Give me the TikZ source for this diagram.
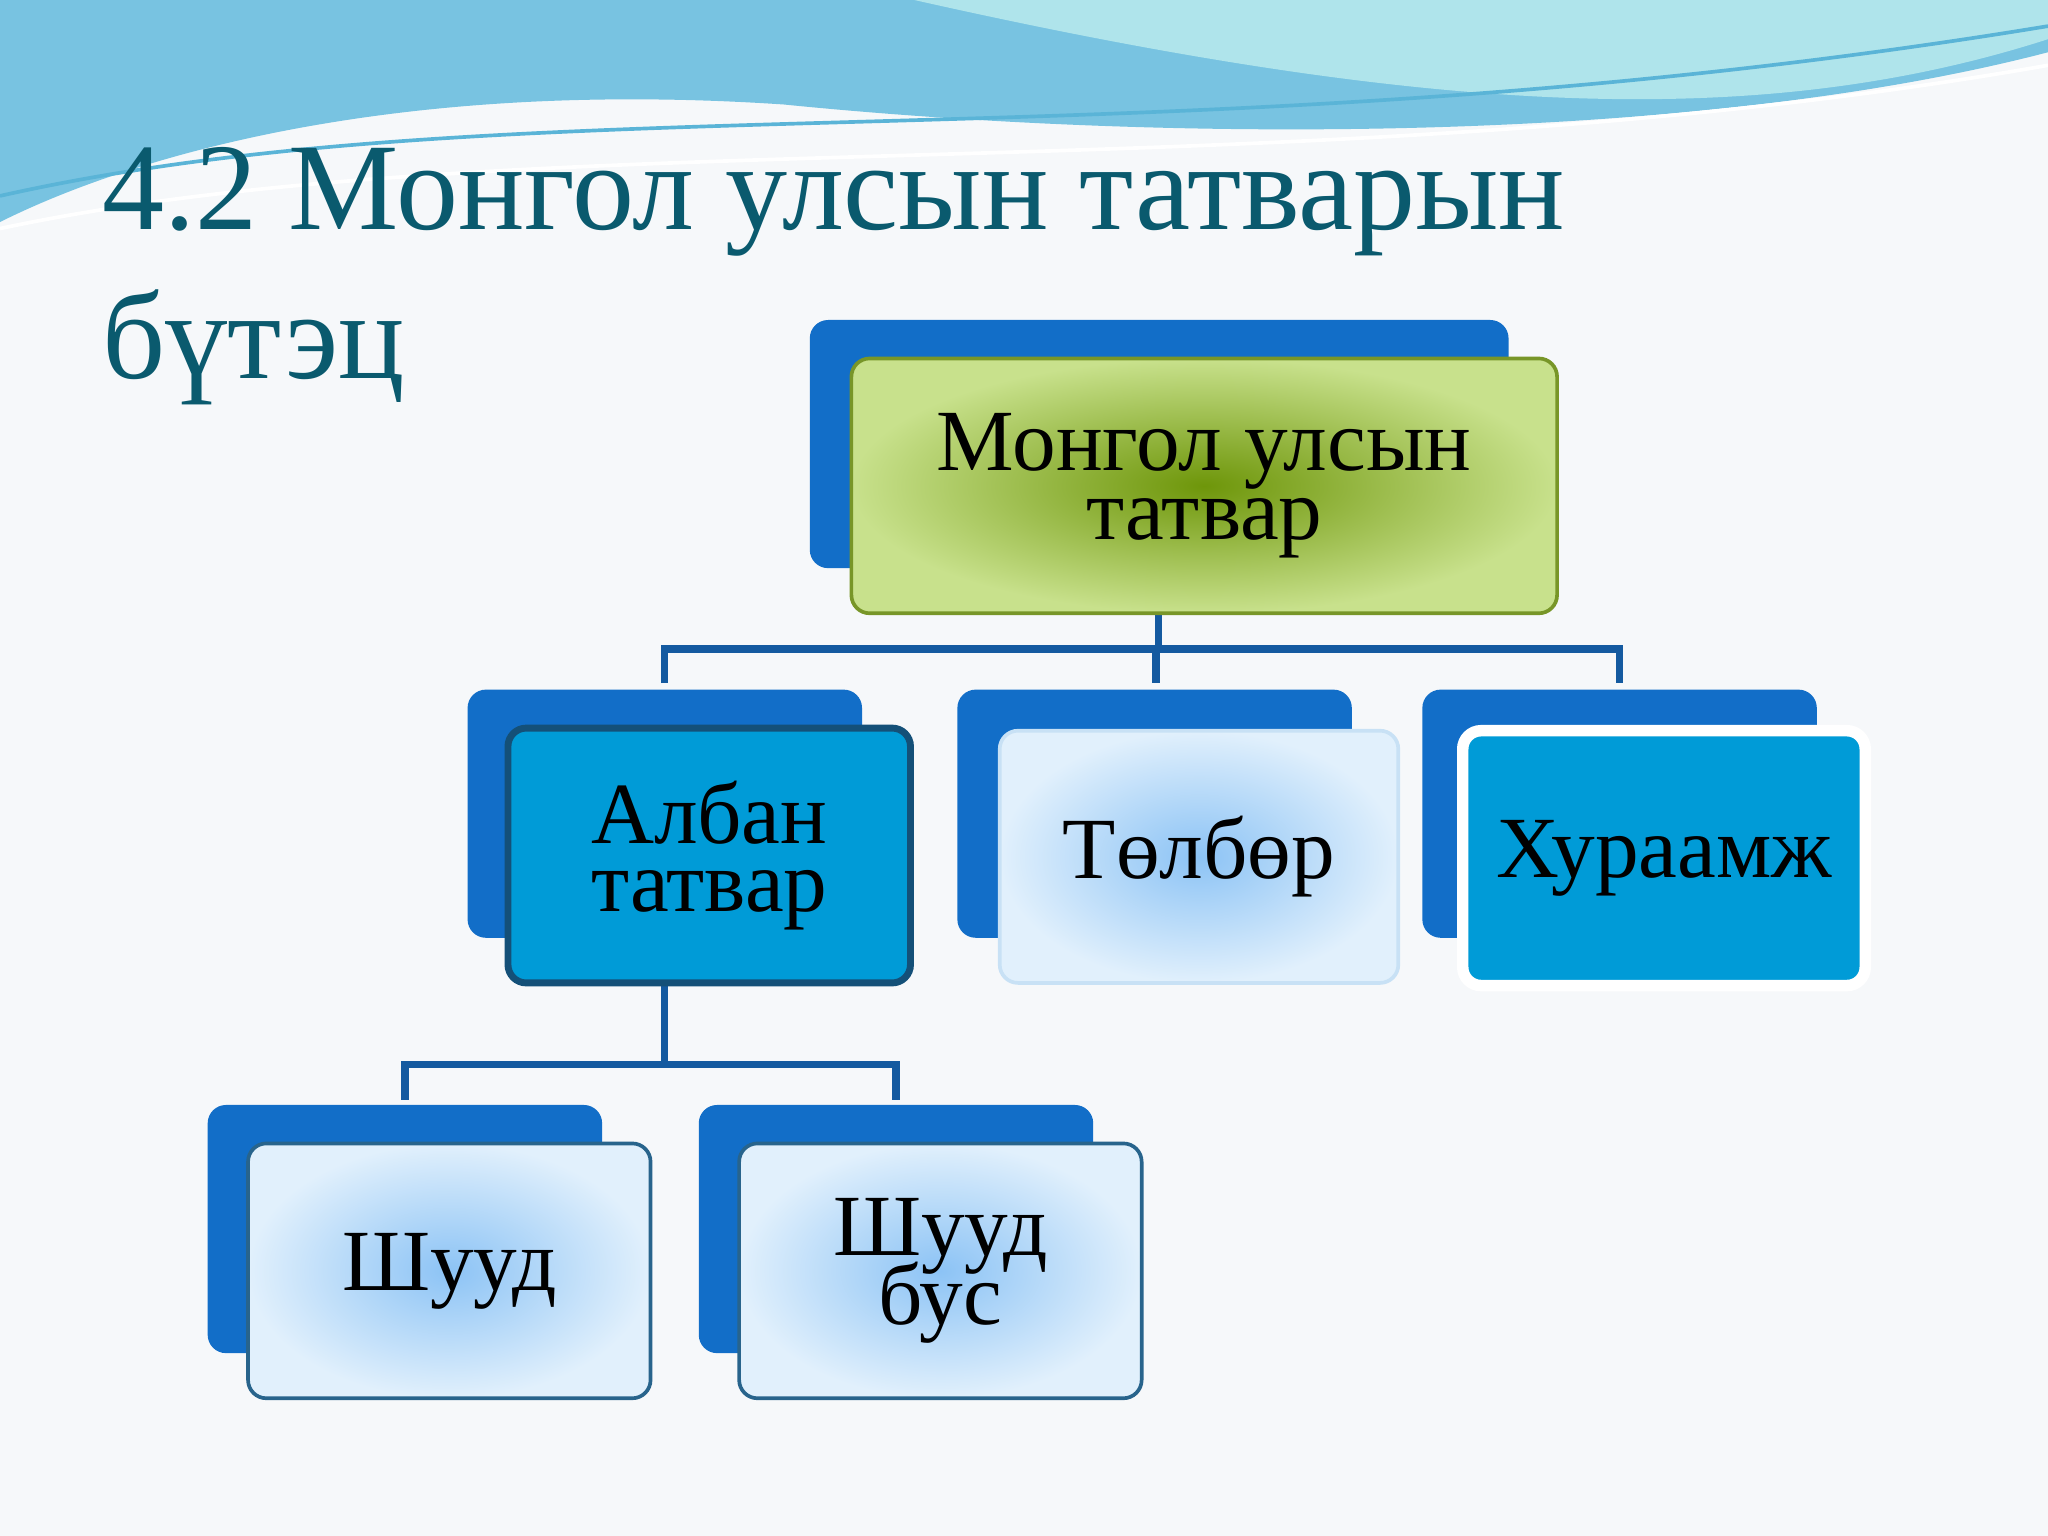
\documentclass[tikz,border=0pt]{standalone}
\usepackage{fontspec}
\setmainfont{Liberation Serif}
\definecolor{backc}{RGB}{18,110,200}
\definecolor{bord}{RGB}{40,100,140}
\definecolor{lb1}{RGB}{140,195,245}
\definecolor{lb2}{RGB}{225,240,252}
\definecolor{connc}{RGB}{20,90,160}
\definecolor{wave1}{RGB}{120,195,225}
\definecolor{wave2}{RGB}{175,228,235}
\definecolor{wave3}{RGB}{90,180,215}
\definecolor{titc}{RGB}{10,90,110}
\definecolor{g1}{RGB}{110,150,10}
\definecolor{g2}{RGB}{200,225,140}
\definecolor{gb}{RGB}{120,150,40}
\definecolor{mid}{RGB}{0,155,215}
\definecolor{midb}{RGB}{20,80,120}
\definecolor{tolb}{RGB}{200,225,245}
\definecolor{bg}{RGB}{246,248,250}
\begin{document}
\begin{tikzpicture}[x=0.01cm,y=-0.01cm,
 back/.style={fill=backc,rounded corners=0.14cm},
 front/.style={rounded corners=0.14cm,draw=bord,line width=0.8pt,align=center,font=\fontsize{19}{19}\selectfont},
 lightb/.style={inner color=lb1,outer color=lb2},
 conn/.style={draw=connc,line width=1.6pt}]
\useasboundingbox (0,0) rectangle (1568,1176);
\fill[bg] (0,0) rectangle (1568,1176);
% top waves
\fill[wave1] (0,0) -- (1568,0) -- (1568,40) .. controls (1300,110) and (900,110) .. (600,80) .. controls (300,60) and (100,120) .. (0,170) -- cycle;
\fill[wave2] (700,0) -- (1568,0) -- (1568,30) .. controls (1350,100) and (1100,90) .. (700,0) -- cycle;
\draw[wave3,line width=0.8pt] (0,150) .. controls (400,60) and (900,130) .. (1568,20);
\draw[white,line width=0.8pt] (0,175) .. controls (400,90) and (1000,150) .. (1568,50);
% title
\node[anchor=base west,inner sep=0,text=titc,font=\fontsize{27}{27}\selectfont] (t1) at (78,176) {4.2 Монгол улсын татварын};
\node[anchor=base west,inner sep=0,text=titc,font=\fontsize{27}{27}\selectfont] (t2) at (78,290) {бүтэц};
% connectors
\draw[conn] (887,470) -- (887,497);
\draw[conn] (509,523) -- (509,497) -- (1240,497) -- (1240,523);
\draw[conn] (885,497) -- (885,523);
\draw[conn] (509,753) -- (509,815);
\draw[conn] (310,842) -- (310,815) -- (686,815) -- (686,842);
% top box
\fill[back] (620,245) rectangle (1155,435);
\node[front,minimum width=5.4cm,minimum height=1.95cm,inner color=g1,outer color=g2,draw=gb] (top) at (922,372) {Монгол улсын\\[-4pt]татвар};
% level 2
\fill[back] (358,528) rectangle (660,718);
\fill[back] (733,528) rectangle (1035,718);
\fill[back] (1089,528) rectangle (1391,718);
\node[front,minimum width=3.08cm,minimum height=1.95cm,fill=mid,draw=midb,line width=1.5pt] (alb) at (543,655) {Албан\\[-4pt]татвар};
\node[front,minimum width=3.05cm,minimum height=1.93cm,lightb,draw=tolb] (tol) at (918,656) {Төлбөр};
\node[front,minimum width=3.08cm,minimum height=1.95cm,fill=mid,draw=white,line width=2.5pt] (hur) at (1274,657) {Хураамж};
% level 3
\fill[back] (159,846) rectangle (461,1036);
\fill[back] (535,846) rectangle (837,1036);
\node[front,minimum width=3.08cm,minimum height=1.95cm,lightb] (sh) at (344,973) {Шууд};
\node[front,minimum width=3.08cm,minimum height=1.95cm,lightb] (shb) at (720,973) {Шууд\\[-4pt]бус};
\end{tikzpicture}
\end{document}
